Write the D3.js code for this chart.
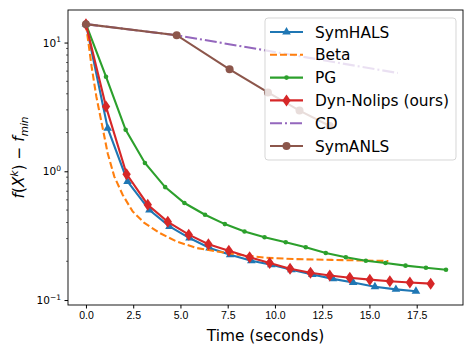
<!DOCTYPE html>
<html>
<head>
<meta charset="utf-8">
<script src="https://cdn.jsdelivr.net/npm/d3@7"></script>
<style>
  body { margin: 0; background: #fff; }
  svg { font-family: "DejaVu Sans", sans-serif; }
  .tick text { font-size: 10.5px; fill: #000; }
</style>
</head>
<body>
<svg id="chart"></svg>
<script>
// values (time in seconds, gap f(X^k) - f_min)
const symhalsT = [0, 1.15, 2.2, 3.36, 4.42, 5.48, 6.54, 7.63, 8.75, 9.81, 10.87, 11.98, 13.07, 14.14, 15.29, 16.4, 17.46];
const symhalsF = [13.9, 2.16, 0.834, 0.5, 0.373, 0.303, 0.254, 0.225, 0.202, 0.188, 0.172, 0.158, 0.146, 0.137, 0.127, 0.121, 0.117];

const betaT = [0, 0.3, 0.55, 0.8, 1.15, 1.5, 1.94, 2.47, 3.09, 3.89, 4.77, 5.83, 6.89, 7.95, 9.5, 11.1, 13.0, 16.0];
const betaF = [13.9, 6.5, 3.8, 2.5, 1.38, 0.91, 0.658, 0.488, 0.397, 0.332, 0.286, 0.254, 0.239, 0.226, 0.213, 0.208, 0.205, 0.201];

const pgT = [0, 1.06, 2.1, 3.12, 4.19, 5.21, 6.3, 7.35, 8.39, 9.45, 10.57, 11.63, 12.69, 13.75, 14.81, 15.85, 16.91, 17.99, 19.05];
const pgF = [13.9, 5.43, 2.1, 1.16, 0.754, 0.567, 0.46, 0.389, 0.341, 0.307, 0.281, 0.257, 0.232, 0.215, 0.202, 0.194, 0.185, 0.178, 0.172];

const dynT = [0, 1.06, 2.15, 3.27, 4.33, 5.44, 6.48, 7.56, 8.66, 9.72, 10.8, 11.88, 12.9, 13.96, 15.02, 16.08, 17.14, 18.24];
const dynF = [13.9, 3.18, 0.95, 0.55, 0.405, 0.322, 0.271, 0.241, 0.215, 0.194, 0.175, 0.163, 0.155, 0.149, 0.144, 0.14, 0.137, 0.134];

const cdT = [0, 4.8, 16.5];
const cdF = [13.9, 11.4, 5.8];

const anlsT = [0, 4.8, 7.6, 9.63, 11.3, 12.9];
const anlsF = [13.9, 11.4, 6.2, 4.1, 2.96, 2.25];

const xTicks = [0, 2.5, 5, 7.5, 10, 12.5, 15, 17.5];
const yMajor = [0.1, 1, 10];
const yExp = ["\u22121", "0", "1"];

const series = [
  {name: "SymHALS", t: symhalsT, f: symhalsF, color: "#1f77b4", dash: null, marker: "triangle"},
  {name: "Beta", t: betaT, f: betaF, color: "#ff7f0e", dash: "7,3", marker: null},
  {name: "PG", t: pgT, f: pgF, color: "#2ca02c", dash: null, marker: "dot"},
  {name: "Dyn-Nolips (ours)", t: dynT, f: dynF, color: "#d62728", dash: null, marker: "diamond"},
  {name: "CD", t: cdT, f: cdF, color: "#9467bd", dash: "12,3,2,3", marker: null},
  {name: "SymANLS", t: anlsT, f: anlsF, color: "#8c564b", dash: null, marker: "circle"}
];

const W = 474, H = 351;
const margin = {top: 10, right: 11, bottom: 46, left: 68};
const width = W - margin.left - margin.right;
const height = H - margin.top - margin.bottom;

const svg = d3.select("#chart").attr("width", W).attr("height", H);
const g = svg.append("g").attr("transform", `translate(${margin.left},${margin.top})`);

const x = d3.scaleLinear().domain([-0.95, 19.95]).range([0, width]);
const y = d3.scaleLog().domain([0.0915, 17.9]).range([height, 0]);

// x axis
const xAxis = d3.axisBottom(x).tickValues(xTicks).tickFormat(d3.format(".1f")).tickSizeOuter(0).tickSize(3.5).tickPadding(3.5);
g.append("g").attr("transform", `translate(0,${height})`).call(xAxis)
  .call(a => a.select(".domain").remove());

// y axis: minor ticks
const minor = [];
[0.01, 0.1, 1, 10].forEach(b => { for (let k = 2; k <= 9; k++) minor.push(b * k); });
const yMinor = minor.filter(v => v > y.domain()[0] && v < y.domain()[1]);
g.append("g").selectAll("line").data(yMinor).join("line")
  .attr("x1", -2).attr("x2", 0)
  .attr("y1", d => y(d)).attr("y2", d => y(d))
  .attr("stroke", "#000").attr("stroke-width", 0.6);

const yAxis = d3.axisLeft(y).tickValues(yMajor).tickFormat("").tickSizeOuter(0).tickSize(3.5);
g.append("g").call(yAxis).call(a => a.select(".domain").remove());

const yl = g.append("g").selectAll("text").data(yMajor).join("text")
  .attr("x", -7).attr("y", d => y(d) + 4)
  .attr("text-anchor", "end")
  .style("font-size", "10.5px");
yl.append("tspan").text("10");
yl.append("tspan").attr("dy", -4.5).style("font-size", "7.5px").text((d, i) => yExp[i]);

// lines
const line = d3.line().x(d => x(d[0])).y(d => y(d[1]));
g.append("clipPath").attr("id", "clip").append("rect").attr("width", width).attr("height", height);

const plot = g.append("g").attr("clip-path", "url(#clip)");

function drawMarker(sel, m, color) {
  if (m === "triangle") {
    sel.append("path").attr("d", d3.symbol(d3.symbolTriangle, 32)()).attr("fill", color);
  } else if (m === "diamond") {
    sel.append("path").attr("d", "M0,-6L4.2,0L0,6L-4.2,0Z").attr("fill", color);
  } else if (m === "dot") {
    sel.append("circle").attr("r", 2.3).attr("fill", color);
  } else if (m === "circle") {
    sel.append("circle").attr("r", 4).attr("fill", color);
  }
}

series.forEach(s => {
  const pts = s.t.map((t, i) => [t, s.f[i]]);
  plot.append("path").datum(pts)
    .attr("d", line)
    .attr("fill", "none")
    .attr("stroke", s.color)
    .attr("stroke-width", 2.1)
    .attr("stroke-dasharray", s.dash);
  if (s.marker) {
    plot.append("g").selectAll("g").data(pts).join("g")
      .attr("transform", d => `translate(${x(d[0])},${y(d[1])})`)
      .each(function () { drawMarker(d3.select(this), s.marker, s.color); });
  }
});

// frame
g.append("rect").attr("width", width).attr("height", height)
  .attr("fill", "none").attr("stroke", "#000").attr("stroke-width", 0.9);

// axis titles
g.append("text")
  .attr("x", width / 2).attr("y", height + 36)
  .attr("text-anchor", "middle")
  .style("font-size", "15.4px")
  .text("Time (seconds)");

const ylab = svg.append("text")
  .attr("transform", `translate(24,${margin.top + height / 2}) rotate(-90)`)
  .attr("text-anchor", "middle")
  .style("font-size", "15.4px");
ylab.append("tspan").style("font-style", "italic").text("f");
ylab.append("tspan").text("(");
ylab.append("tspan").style("font-style", "italic").text("X");
ylab.append("tspan").attr("dy", -6).style("font-size", "10.5px").style("font-style", "italic").text("k");
ylab.append("tspan").attr("dy", 6).text(") \u2212 ");
ylab.append("tspan").style("font-style", "italic").text("f");
ylab.append("tspan").attr("dy", 4).style("font-size", "10.5px").style("font-style", "italic").text("min");

// legend
const lg = svg.append("g").attr("transform", "translate(265,18)");
lg.append("rect").attr("width", 191).attr("height", 142).attr("rx", 3)
  .attr("fill", "#fff").attr("fill-opacity", 0.8)
  .attr("stroke", "#ccc").attr("stroke-opacity", 0.8);
series.forEach((s, i) => {
  const row = lg.append("g").attr("transform", `translate(0,${14 + i * 22.8})`);
  row.append("line").attr("x1", 5).attr("x2", 38)
    .attr("stroke", s.color).attr("stroke-width", 2.1)
    .attr("stroke-dasharray", s.dash);
  if (s.marker) {
    const mk = row.append("g").attr("transform", "translate(21.5,0)");
    drawMarker(mk, s.marker, s.color);
  }
  row.append("text").attr("x", 50).attr("y", 5.5)
    .style("font-size", "15.4px").text(s.name);
});
</script>
</body>
</html>
